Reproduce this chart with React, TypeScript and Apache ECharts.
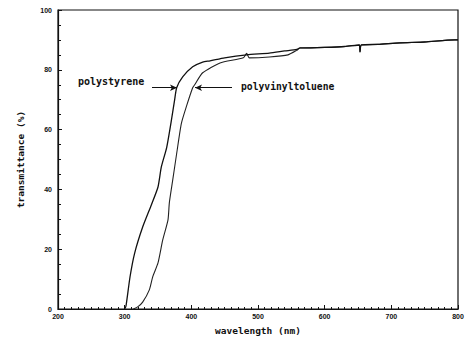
import React, { useEffect, useRef } from "react";
import * as echarts from "echarts";

const psWavelength = [300, 302, 308, 315, 327, 340, 350, 355, 363, 370, 375, 378, 387, 402, 417, 428, 450, 483, 517, 540, 558, 563, 567, 600, 630, 652, 653, 655, 680, 713, 750, 795, 800];
const psTransmittance = [0, 1, 10.7, 18.7, 27.4, 34.8, 40.8, 47.5, 54, 63, 70, 74, 77.6, 81, 82.6, 83, 84, 85, 85.6, 86.3, 86.8, 87.3, 87.3, 87.5, 87.8, 88.3, 86, 88.3, 88.5, 89, 89.3, 90, 90];

const pvtWavelength = [313, 320, 327, 337, 342, 350, 357, 365, 367, 372, 378, 385, 393, 402, 405, 417, 443, 478, 483, 487, 517, 545, 558, 563, 567, 600, 630, 652, 653, 655, 680, 713, 750, 795, 800];
const pvtTransmittance = [0, 0.8, 2.3, 6.4, 10.7, 15.4, 23, 29.8, 35.5, 43, 52, 62, 68, 74, 75, 79, 82.3, 84, 85.5, 84, 84.3, 85, 86.5, 87.3, 87.3, 87.5, 87.8, 88.3, 86, 88.3, 88.5, 89, 89.3, 90, 90];

const xTicks = [200, 300, 400, 500, 600, 700, 800];
const yTicks = [0, 20, 40, 60, 80, 100];

const seriesNames = ["polystyrene", "polyvinyltoluene"];
const arrowPs = { fromX: 341, toX: 378.5, y: 74 };
const arrowPvt = { fromX: 461, toX: 405.5, y: 74 };

const mono = "'DejaVu Sans Mono', monospace";

export default function App() {
  const ref = useRef<HTMLDivElement>(null);
  useEffect(() => {
    document.body.style.margin = "0";
    const chart = echarts.init(ref.current!, null, { renderer: "svg" });
    const zip = (xs: number[], ys: number[]) => xs.map((x, i) => [x, ys[i]]);
    const arrowLine = (a: { fromX: number; toX: number; y: number }) => ({
      silent: true,
      symbol: ["none", "arrow"],
      symbolSize: [5, 7],
      label: { show: false },
      lineStyle: { color: "#111", width: 1, type: "solid" },
      data: [[{ coord: [a.fromX, a.y] }, { coord: [a.toX, a.y] }]],
    });
    chart.setOption({
      animation: false,
      backgroundColor: "#fff",
      grid: {
        left: 58,
        right: 16,
        top: 10,
        bottom: 32,
        show: true,
        borderColor: "#111",
        borderWidth: 1.2,
      },
      xAxis: {
        type: "value",
        min: xTicks[0],
        max: xTicks[xTicks.length - 1],
        interval: 100,
        name: "wavelength (nm)",
        nameLocation: "middle",
        nameGap: 16,
        nameTextStyle: { fontFamily: mono, fontSize: 9.5, color: "#111", fontWeight: "bold" },
        axisLine: { lineStyle: { color: "#111", width: 1.2 } },
        axisTick: { inside: true, length: 4, lineStyle: { color: "#111" } },
        minorTick: { show: true, splitNumber: 10, length: 2, lineStyle: { color: "#111" } },
        splitLine: { show: false },
        axisLabel: { fontSize: 7, fontWeight: "bold", color: "#111", margin: 4, fontFamily: "'Liberation Sans', Arial, sans-serif" },
      },
      yAxis: {
        type: "value",
        min: yTicks[0],
        max: yTicks[yTicks.length - 1],
        interval: 20,
        name: "transmittance (%)",
        nameLocation: "middle",
        nameGap: 33,
        nameTextStyle: { fontFamily: mono, fontSize: 9.5, color: "#111", fontWeight: "bold" },
        axisLine: { show: true, lineStyle: { color: "#111", width: 1.2 } },
        axisTick: { show: true, inside: true, length: 4, lineStyle: { color: "#111" } },
        minorTick: { show: true, splitNumber: 4, length: 3, lineStyle: { color: "#111" } },
        splitLine: { show: false },
        axisLabel: { fontSize: 7, fontWeight: "bold", color: "#111", margin: 6, fontFamily: "'Liberation Sans', Arial, sans-serif" },
      },
      series: [
        {
          name: seriesNames[0],
          type: "line",
          data: zip(psWavelength, psTransmittance),
          showSymbol: false,
          smooth: 0.2,
          lineStyle: { color: "#111", width: 1.3 },
          markLine: arrowLine(arrowPs),
          z: 3,
        },
        {
          name: seriesNames[1],
          type: "line",
          data: zip(pvtWavelength, pvtTransmittance),
          showSymbol: false,
          smooth: 0.2,
          lineStyle: { color: "#222", width: 1.1 },
          markLine: arrowLine(arrowPvt),
          z: 2,
        },
      ],
      graphic: [
        {
          type: "text",
          left: 78,
          top: 76,
          style: { text: seriesNames[0], font: `bold 10px ${mono}`, fill: "#111" },
        },
        {
          type: "text",
          left: 241,
          top: 81,
          style: { text: seriesNames[1], font: `bold 9.7px ${mono}`, fill: "#111" },
        },
      ],
    });
    return () => chart.dispose();
  }, []);
  return <div ref={ref} style={{ width: 474, height: 341 }} />;
}
